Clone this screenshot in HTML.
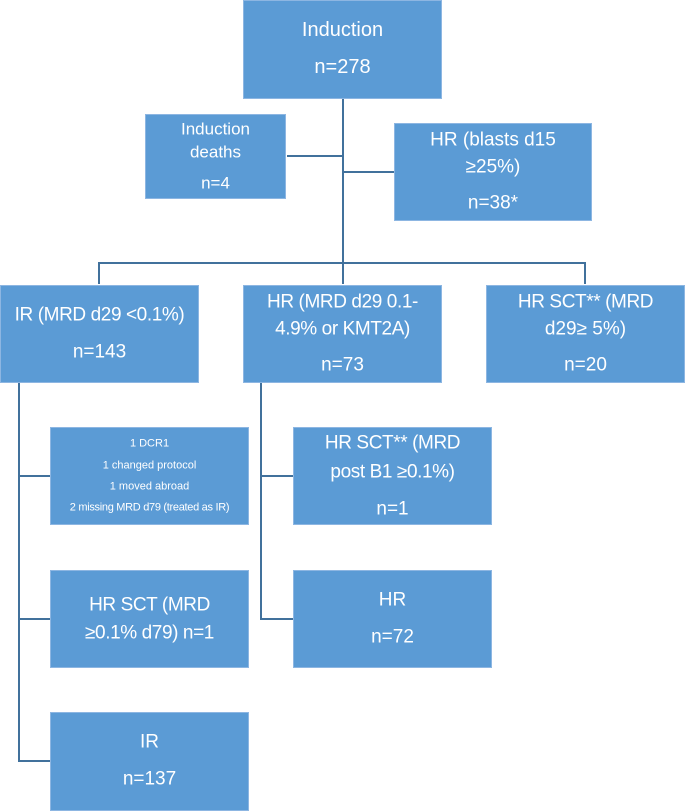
<!DOCTYPE html>
<html><head><meta charset="utf-8"><style>
body{margin:0;width:685px;height:811px;background:#fff;position:relative;overflow:hidden;font-family:"Liberation Sans",sans-serif;}
.b{position:absolute;background:#5B9BD5;border:1px solid #8db6e2;box-sizing:border-box;}
.t{position:absolute;color:#fff;text-align:center;white-space:nowrap;transform:translateY(-50%);line-height:1;}
.h{position:absolute;background:#41719C;height:2px;}
.v{position:absolute;background:#41719C;width:2px;}
</style></head><body>
<!-- lines -->
<div class="v" style="left:342px;top:99px;height:185px"></div>
<div class="h" style="left:287px;top:155px;width:56px"></div>
<div class="h" style="left:343px;top:171px;width:51px"></div>
<div class="h" style="left:98px;top:262px;width:488px"></div>
<div class="v" style="left:98px;top:262px;height:22px"></div>
<div class="v" style="left:584px;top:262px;height:22px"></div>
<div class="v" style="left:18px;top:383px;height:379px"></div>
<div class="h" style="left:18px;top:475px;width:32px"></div>
<div class="h" style="left:18px;top:618px;width:32px"></div>
<div class="h" style="left:18px;top:760px;width:32px"></div>
<div class="v" style="left:260px;top:383px;height:237px"></div>
<div class="h" style="left:260px;top:475px;width:33px"></div>
<div class="h" style="left:260px;top:618px;width:33px"></div>
<!-- boxes -->
<div class="b" style="left:243px;top:0;width:199px;height:99px"></div>
<div class="t" style="left:243px;width:199px;top:30px;font-size:20px">Induction</div>
<div class="t" style="left:243px;width:199px;top:67px;font-size:20px">n=278</div>

<div class="b" style="left:145px;top:114px;width:141px;height:85px"></div>
<div class="t" style="left:145px;width:141px;top:129px;font-size:17px">Induction</div>
<div class="t" style="left:145px;width:141px;top:152px;font-size:17px">deaths</div>
<div class="t" style="left:145px;width:141px;top:183px;font-size:17px">n=4</div>

<div class="b" style="left:394px;top:123px;width:198px;height:98px"></div>
<div class="t" style="left:394px;width:198px;top:140px;font-size:19px">HR (blasts d15</div>
<div class="t" style="left:394px;width:198px;top:167px;font-size:19px">≥25%)</div>
<div class="t" style="left:394px;width:198px;top:203px;font-size:19px">n=38*</div>

<div class="b" style="left:0;top:285px;width:199px;height:98px"></div>
<div class="t" style="left:0;width:199px;top:315px;font-size:19px;letter-spacing:-0.4px">IR (MRD d29 &lt;0.1%)</div>
<div class="t" style="left:0;width:199px;top:352px;font-size:19px">n=143</div>

<div class="b" style="left:243px;top:285px;width:199px;height:98px"></div>
<div class="t" style="left:243px;width:199px;top:302px;font-size:19px;letter-spacing:-0.4px">HR (MRD d29 0.1-</div>
<div class="t" style="left:243px;width:199px;top:329px;font-size:19px;letter-spacing:-0.4px">4.9% or KMT2A)</div>
<div class="t" style="left:243px;width:199px;top:365px;font-size:19px">n=73</div>

<div class="b" style="left:486px;top:285px;width:199px;height:98px"></div>
<div class="t" style="left:486px;width:199px;top:302px;font-size:19px;letter-spacing:-0.4px">HR SCT** (MRD</div>
<div class="t" style="left:486px;width:199px;top:329px;font-size:19px">d29≥ 5%)</div>
<div class="t" style="left:486px;width:199px;top:365px;font-size:19px">n=20</div>

<div class="b" style="left:50px;top:427px;width:199px;height:98px"></div>
<div class="t" style="left:50px;width:199px;top:444px;font-size:11px">1 DCR1</div>
<div class="t" style="left:50px;width:199px;top:466px;font-size:11px">1 changed protocol</div>
<div class="t" style="left:50px;width:199px;top:487px;font-size:11px">1 moved abroad</div>
<div class="t" style="left:50px;width:199px;top:508px;font-size:11px;letter-spacing:-0.3px">2 missing MRD d79 (treated as IR)</div>

<div class="b" style="left:50px;top:570px;width:199px;height:98px"></div>
<div class="t" style="left:50px;width:199px;top:605px;font-size:19px;letter-spacing:-0.4px">HR SCT (MRD</div>
<div class="t" style="left:50px;width:199px;top:633px;font-size:19px;letter-spacing:-0.4px">≥0.1% d79) n=1</div>

<div class="b" style="left:50px;top:712px;width:199px;height:99px"></div>
<div class="t" style="left:50px;width:199px;top:742px;font-size:19px">IR</div>
<div class="t" style="left:50px;width:199px;top:779px;font-size:19px">n=137</div>

<div class="b" style="left:293px;top:427px;width:199px;height:98px"></div>
<div class="t" style="left:293px;width:199px;top:443px;font-size:19px;letter-spacing:-0.4px">HR SCT** (MRD</div>
<div class="t" style="left:293px;width:199px;top:472px;font-size:19px;letter-spacing:-0.4px">post B1 ≥0.1%)</div>
<div class="t" style="left:293px;width:199px;top:509px;font-size:19px">n=1</div>

<div class="b" style="left:293px;top:570px;width:199px;height:98px"></div>
<div class="t" style="left:293px;width:199px;top:600px;font-size:19px">HR</div>
<div class="t" style="left:293px;width:199px;top:637px;font-size:19px">n=72</div>
</body></html>
